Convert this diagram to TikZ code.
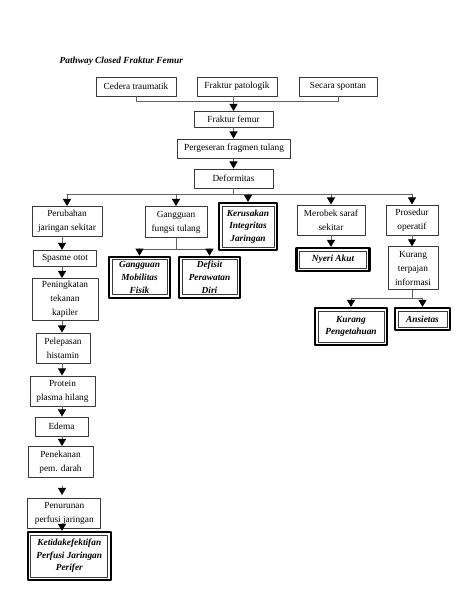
\documentclass[tikz,border=0pt]{standalone}
\usepackage{fontspec}
\setmainfont{Liberation Serif}
\usetikzlibrary{arrows.meta}
\definecolor{lnc}{rgb}{0.38,0.38,0.38}
\definecolor{bxc}{rgb}{0.22,0.22,0.22}

\begin{document}
\begin{tikzpicture}[line cap=round,line join=round,x=0.75pt,y=-0.75pt,
  box/.style={draw=bxc,line width=0.7pt,align=center,inner sep=1pt,font=\fontsize{7}{10.5}\selectfont},
  sz/.style 2 args={minimum width=#1*0.75pt,minimum height=#2*0.75pt},
  dbox/.style={draw=black,line width=1.6pt,align=center,inner sep=1pt,font=\fontsize{7}{9.5}\selectfont\bfseries\itshape,
    path picture={\draw[line width=0.6pt,bxc] ([shift={(2.3pt,2.3pt)}]path picture bounding box.south west) rectangle ([shift={(-2.3pt,-2.3pt)}]path picture bounding box.north east);}},
  cn/.style={draw=lnc,line width=0.7pt},
  ar/.style={cn,-{Triangle[width=6pt,length=5.3pt,color=black]}}]
\useasboundingbox (0,0) rectangle (474,613);

\node[anchor=west,font=\fontsize{7}{9}\selectfont\bfseries\itshape] (ttl) at (55,61) {Pathway Closed Fraktur Femur};

\node[box,sz={80}{19}] (cedera) at (136,86.5) {Cedera traumatik};
\node[box,sz={80}{19}] (patologik) at (237,86.5) {Fraktur patologik};
\node[box,sz={78}{19}] (spontan) at (338,86.5) {Secara spontan};
\node[box,sz={79}{16}] (femur) at (233.5,119.5) {Fraktur femur};
\node[box,sz={113}{19}] (geser) at (234,148.5) {Pergeseran fragmen tulang};
\node[box,sz={79}{19}] (deform) at (233.5,178.5) {Deformitas};

\node[box,sz={70}{30}] (perubahan) at (67,221.5) {Perubahan\\jaringan sekitar};
\node[box,sz={62}{31}] (fungsi) at (176,222) {Gangguan\\fungsi tulang};
\node[dbox,sz={58}{47}] (kerusakan) at (248,226.5) {Kerusakan\\Integritas\\Jaringan};
\node[box,sz={68}{30}] (merobek) at (331,220) {Merobek saraf\\sekitar};
\node[box,sz={52}{30}] (prosedur) at (412,220) {Prosedur\\operatif};

\node[box,sz={63}{16}] (spasme) at (65,258.3) {Spasme otot};
\node[box,sz={66}{42}] (kapiler) at (65,299.5) {Peningkatan\\tekanan\\kapiler};
\node[box,sz={54}{30}] (histamin) at (63,348) {Pelepasan\\histamin};
\node[box,sz={65}{30}] (protein) at (62.5,391) {Protein\\plasma hilang};
\node[box,sz={53}{19}] (edema) at (61.5,426.5) {Edema};
\node[box,sz={65}{31}] (penekanan) at (60.5,462) {Penekanan\\pem. darah};
\node[box,sz={73}{30}] (penurunan) at (64.3,513) {Penurunan\\perfusi jaringan};
\node[dbox,sz={83}{48}] (perifer) at (69.3,556) {Ketidakefektifan\\Perfusi Jaringan\\Perifer};

\node[dbox,sz={61}{41}] (mobilitas) at (139.5,277.3) {Gangguan\\Mobilitas\\Fisik};
\node[dbox,sz={61}{41}] (defisit) at (209.5,277.3) {Defisit\\Perawatan\\Diri};

\node[dbox,sz={73}{23}] (nyeri) at (333,259.5) {Nyeri Akut};
\node[box,sz={50}{43}] (terpajan) at (413,268.3) {Kurang\\terpajan\\informasi};
\node[dbox,sz={72}{37}] (pengetahuan) at (351,326.5) {Kurang\\Pengetahuan};
\node[dbox,sz={55}{22}] (ansietas) at (422.5,319) {Ansietas};

\coordinate (jt) at (233.5,101.7);
\coordinate (jb) at (233.5,194);
\coordinate (jf) at (176,249);
\coordinate (jk) at (412,298.3);
\coordinate (lc) at (62,0);

\draw[cn] (cedera.south) -- (cedera.south |- jt) -- (spontan.south |- jt) -- (spontan.south);
\draw[ar] (patologik.south -| femur.north) -- (femur.north);
\draw[ar] (femur.south) -- (femur.south |- geser.north);
\draw[ar] (geser.south -| deform.north) -- (deform.north);

\draw[cn] (deform.south) -- (deform.south |- jb);
\draw[cn] (perubahan.north |- jb) -- (prosedur.north |- jb);
\foreach \n in {perubahan,fungsi,kerusakan,merobek,prosedur}
  \draw[ar] (\n.north |- jb) -- (\n.north);

\draw[cn] (fungsi.south) -- (jf);
\draw[cn] (mobilitas.north |- jf) -- (defisit.north |- jf);
\foreach \n in {mobilitas,defisit}
  \draw[ar] (\n.north |- jf) -- (\n.north);

\draw[ar] (merobek.south) -- (merobek.south |- nyeri.north);
\draw[ar] (prosedur.south) -- (prosedur.south |- terpajan.north);
\draw[cn] (terpajan.south -| jk) -- (jk);
\draw[cn] (pengetahuan.north |- jk) -- (ansietas.north |- jk);
\foreach \n in {pengetahuan,ansietas}
  \draw[ar] (\n.north |- jk) -- (\n.north);

\foreach \a/\b in {perubahan/spasme,spasme/kapiler,kapiler/histamin,histamin/protein,protein/edema,edema/penekanan,penurunan/perifer}
  \draw[ar] (\a.south -| lc) -- (\b.north -| lc);
\draw[ar] ([yshift=-6pt]penekanan.south -| lc) -- ++(0,9);

\end{tikzpicture}
\end{document}
